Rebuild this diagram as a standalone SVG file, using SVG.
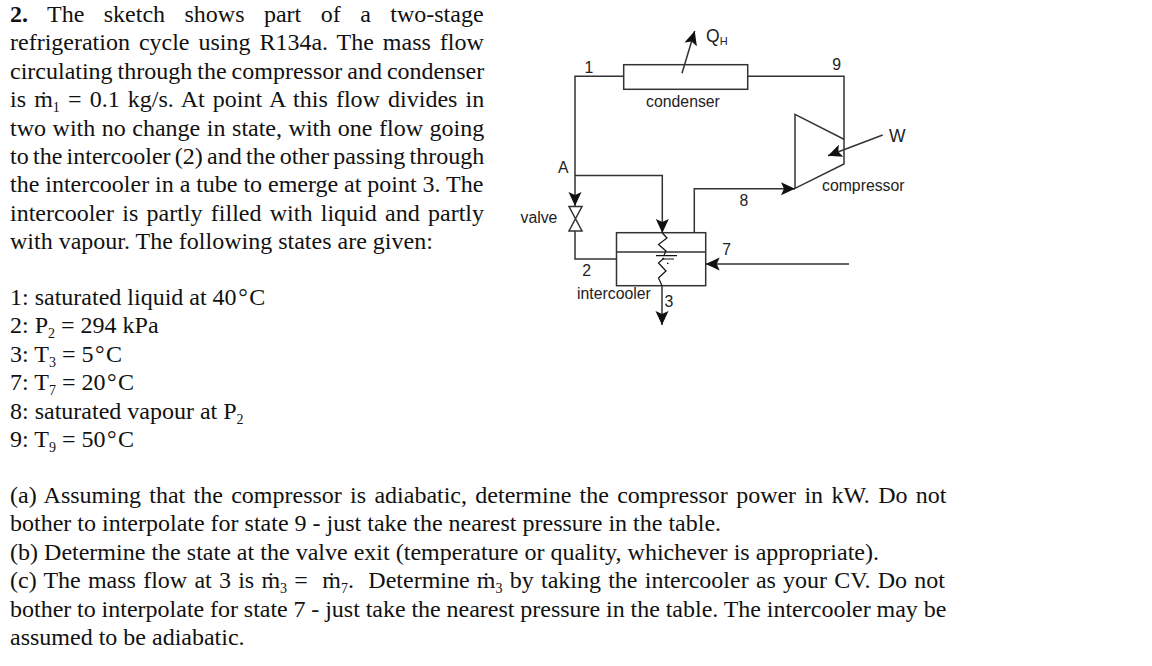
<svg xmlns="http://www.w3.org/2000/svg" width="1152" height="666" viewBox="0 0 1152 666">
<style>
text{fill:#111}
.t{font-family:"Liberation Serif","Times New Roman",serif;font-size:24px}
.l{font-family:"Liberation Sans",Arial,sans-serif;font-size:15.8px;fill:#222}
.c{text-anchor:middle}
.s{font-size:14px}
.ss{font-size:11px}
.b{font-weight:bold}
.big{font-size:17.5px}
.w{fill:none;stroke:#333;stroke-width:1.5}
.sh{fill:#fff;stroke:#333;stroke-width:1.5}
.k{stroke:#111;stroke-width:1.2;fill:none}
</style>
<defs>
<marker id="a" markerUnits="userSpaceOnUse" markerWidth="16" markerHeight="14" refX="14" refY="7" orient="auto"><path d="M0 0.5L14 7L0 13.5L3 7Z" fill="#111"/></marker>
</defs>
<rect width="1152" height="666" fill="#fff"/>

<g id="problem-text">
<text class="t" x="10" y="22" word-spacing="13.44"><tspan class="b">2.</tspan> The sketch shows part of a two-stage</text>
<text class="t" x="10" y="50.4" word-spacing="2.95">refrigeration cycle using R134a. The mass flow</text>
<text class="t" x="10" y="78.8" word-spacing="-1">circulating through the compressor and condenser</text>
<text class="t" x="10" y="107.2" word-spacing="2.15">is ṁ<tspan class="s" dy="5">1</tspan><tspan dy="-5"> = 0.1 kg/s. At point A this flow divides in</tspan></text>
<text class="t" x="10" y="135.6" word-spacing="0.55">two with no change in state, with one flow going</text>
<text class="t" x="10" y="164" word-spacing="-1.7">to the intercooler (2) and the other passing through</text>
<text class="t" x="10" y="192.4" word-spacing="-0.1">the intercooler in a tube to emerge at point 3. The</text>
<text class="t" x="10" y="220.8" word-spacing="2.3">intercooler is partly filled with liquid and partly</text>
<text class="t" x="10" y="249.2">with vapour. The following states are given:</text>
</g>
<g id="states-text">
<text class="t" x="10" y="305">1: saturated liquid at 40<tspan dx="1.5">°</tspan><tspan dx="1.5">C</tspan></text>
<text class="t" x="10" y="333.4">2: P<tspan class="s" dy="5">2</tspan><tspan dy="-5"> = 294 kPa</tspan></text>
<text class="t" x="10" y="361.8">3: T<tspan class="s" dy="5">3</tspan><tspan dy="-5"> = 5</tspan><tspan dx="1.5">°</tspan><tspan dx="1.5">C</tspan></text>
<text class="t" x="10" y="390.2">7: T<tspan class="s" dy="5">7</tspan><tspan dy="-5"> = 20</tspan><tspan dx="1.5">°</tspan><tspan dx="1.5">C</tspan></text>
<text class="t" x="10" y="418.6">8: saturated vapour at P<tspan class="s" dy="5">2</tspan></text>
<text class="t" x="10" y="447">9: T<tspan class="s" dy="5">9</tspan><tspan dy="-5"> = 50</tspan><tspan dx="1.5">°</tspan><tspan dx="1.5">C</tspan></text>
</g>
<g id="questions-text">
<text class="t" x="10" y="503" word-spacing="2.3">(a) Assuming that the compressor is adiabatic, determine the compressor power in kW. Do not</text>
<text class="t" x="10" y="531.4">bother to interpolate for state 9 - just take the nearest pressure in the table.</text>
<text class="t" x="10" y="559.8" word-spacing="0.07">(b) Determine the state at the valve exit (temperature or quality, whichever is appropriate).</text>
<text class="t" x="10" y="588.2" word-spacing="1.22" xml:space="preserve">(c) The mass flow at 3 is ṁ<tspan class="s" dy="5">3</tspan><tspan dy="-5"> =  ṁ</tspan><tspan class="s" dy="5">7</tspan><tspan dy="-5">.  Determine ṁ</tspan><tspan class="s" dy="5">3</tspan><tspan dy="-5"> by taking the intercooler as your CV. Do not</tspan></text>
<text class="t" x="10" y="616.6" word-spacing="-0.2">bother to interpolate for state 7 - just take the nearest pressure in the table. The intercooler may be</text>
<text class="t" x="10" y="645">assumed to be adiabatic.</text>
</g>

<g id="condenser">
<rect class="sh" x="623.7" y="64.7" width="124" height="24.6"/>
<text class="l c" x="683" y="106.7">condenser</text>
</g>
<g id="compressor">
<path class="sh" d="M795 114.3L844 139.3V164L795 188.3Z"/>
<text class="l" x="822" y="191">compressor</text>
</g>
<g id="valve">
<path class="sh" d="M569 206.5H582L569 231H582Z"/>
<text class="l" x="520.5" y="223">valve</text>
</g>
<g id="intercooler">
<rect class="sh" x="616.5" y="232.7" width="89.2" height="53"/>
<path class="w" d="M616.5 252H705.7"/>
<path class="k" d="M662.3 233L667 238L658.5 244.5L666 251L664 255M664 258L658.5 263L666 271L658.5 278L662 285.7"/>
<path class="k" d="M656 255.7H677M662 259H674M667 263.3H668.5"/>
<text class="l" x="577" y="299">intercooler</text>
</g>

<g id="connectors">
<path class="w" d="M623.7 76.3H575V206" marker-end="url(#a)"/>
<path class="w" d="M575 175.5H662.3V233" marker-end="url(#a)"/>
<path class="w" d="M575 231V259H616.5"/>
<path class="w" d="M694.3 232.7V188.7H795" marker-end="url(#a)"/>
<path class="w" d="M844 139.3V76.3H747.7"/>
<path class="w" d="M849 264H705.7" marker-end="url(#a)"/>
<path class="w" d="M662 285.7V325" marker-end="url(#a)"/>
<path class="w" d="M682 73.3L694.7 31" marker-end="url(#a)"/>
<path class="w" d="M882.7 135L828 155.7" marker-end="url(#a)"/>
</g>

<g id="labels">
<text class="l c" x="589" y="72.7">1</text>
<text class="l c" x="836.7" y="70">9</text>
<text class="l big" x="706" y="41.5">Q<tspan class="ss" dy="3">H</tspan></text>
<text class="l big" x="889" y="141.5">W</text>
<text class="l c" x="744" y="205.7">8</text>
<text class="l" x="558" y="172.7">A</text>
<text class="l c" x="586.7" y="276">2</text>
<text class="l c" x="726.7" y="255">7</text>
<text class="l c" x="669" y="306.7">3</text>
</g>
</svg>
